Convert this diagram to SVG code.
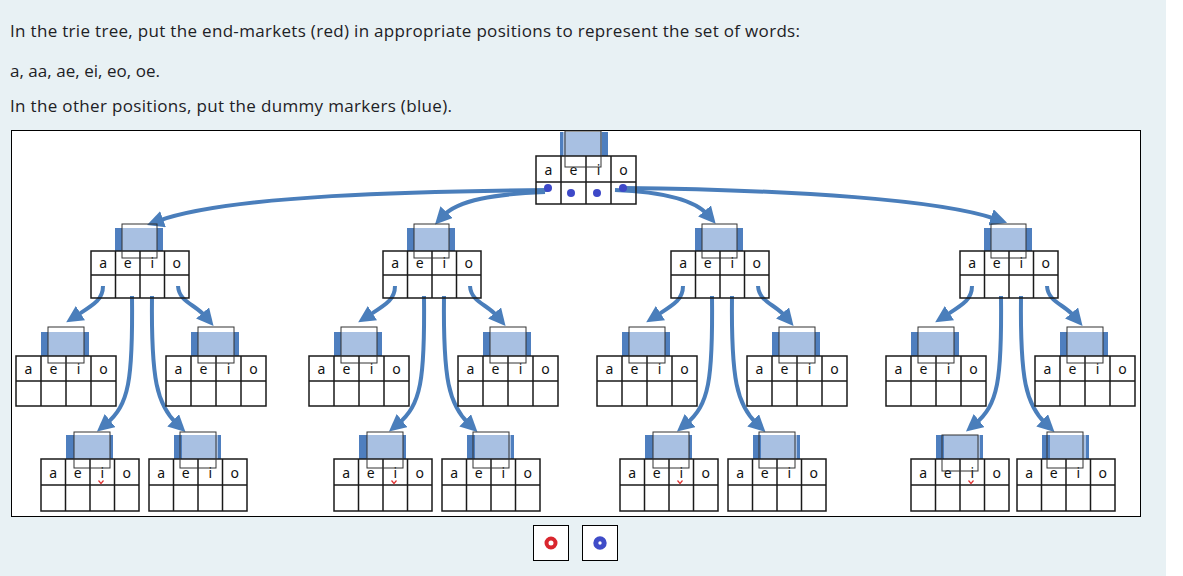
<svg xmlns="http://www.w3.org/2000/svg" width="1183" height="576" viewBox="0 0 1183 576">
<style>
.hd{font-family:"Open Sans","Noto Sans",sans-serif;font-size:17px;fill:#1d2125}
.dk{fill:#4f7fbf}
.lt{fill:#a8c0e2}
.ol{fill:none;stroke:#333;stroke-width:1}
.gr{fill:none;stroke:#1a1a1a;stroke-width:1.5}
.lb{font-family:"Noto Sans","Open Sans",sans-serif;font-size:14px;text-anchor:middle;fill:#111}
.cn{fill:none;stroke:#4a7ebb;stroke-width:4;marker-end:url(#ah)}
.dot{fill:#3d48c8}
.rm{fill:none;stroke:#e03030;stroke-width:1.2}
</style>
<defs>
<marker id="ah" markerUnits="userSpaceOnUse" viewBox="0 0 16 16" markerWidth="17" markerHeight="17" refX="5" refY="8" orient="auto">
<path d="M0,0L16,8L0,16Z" fill="#4a7ebb"/>
</marker>
</defs>
<rect x="0" y="0" width="1166" height="576" fill="#e8f1f4"/>
<rect x="1166" y="0" width="17" height="576" fill="#ffffff"/>
<text class="hd" x="10" y="37" textLength="790">In the trie tree, put the end-markets (red) in appropriate positions to represent the set of words:</text>
<text class="hd" x="10" y="77" textLength="150">a, aa, ae, ei, eo, oe.</text>
<text class="hd" x="10" y="112" textLength="442">In the other positions, put the dummy markers (blue).</text>
<rect x="11.5" y="130.5" width="1129" height="386" fill="#ffffff" stroke="#000" stroke-width="1"/>

<g id="connectors">
<path class="cn" d="M548,190 C420,191 230,195 158,221"/>
<path class="cn" d="M545,192 C495,194 458,200 443,216"/>
<path class="cn" d="M615,190 C665,192 695,200 708,215"/>
<path class="cn" d="M623,188 C800,190 940,200 996,219"/>

<path class="cn" d="M103,286 C103,300 93,305 76,316"/>
<path class="cn" d="M178,286 C179,302 195,304 206,317"/>
<path class="cn" d="M132,296 C133,380 129,405 106,424"/>
<path class="cn" d="M152,296 C151,380 157,405 177,424"/>

<path class="cn" d="M395,286 C395,300 385,305 368,316"/>
<path class="cn" d="M470,286 C471,302 487,304 498,317"/>
<path class="cn" d="M424,296 C425,380 421,405 398,424"/>
<path class="cn" d="M444,296 C443,380 449,405 469,424"/>

<path class="cn" d="M683,286 C683,300 673,305 656,316"/>
<path class="cn" d="M758,286 C759,302 775,304 786,317"/>
<path class="cn" d="M712,296 C713,380 709,405 686,424"/>
<path class="cn" d="M732,296 C731,380 737,405 757,424"/>

<path class="cn" d="M972,286 C972,300 962,305 945,316"/>
<path class="cn" d="M1047,286 C1048,302 1064,304 1075,317"/>
<path class="cn" d="M1001,296 C1002,380 998,405 975,424"/>
<path class="cn" d="M1021,296 C1020,380 1026,405 1046,424"/>
</g>

<!-- root -->
<g id="n-root" transform="translate(536,156)">
<rect class="dk" x="24" y="-24" width="48" height="24"/>
<rect class="lt" x="27" y="-24" width="39" height="24"/>
<path class="gr" d="M0,0H100V48H0Z M0,26H100 M25,0V48 M50,0V48 M75,0V48"/>
<text class="lb" x="12.5" y="19">a</text><text class="lb" x="37.5" y="19">e</text><text class="lb" x="62.5" y="19">i</text><text class="lb" x="87.5" y="19">o</text>
<rect class="ol" x="29" y="-25" width="36" height="36"/>
<circle class="dot" cx="12" cy="32" r="4"/><circle class="dot" cx="35" cy="37" r="4"/><circle class="dot" cx="61" cy="37" r="4"/><circle class="dot" cx="87" cy="32" r="4"/>
</g>

<!-- level 1 -->
<g id="n-a" transform="translate(91,251)">
<rect class="dk" x="24" y="-23" width="48" height="23"/><rect class="lt" x="31" y="-23" width="35" height="23"/>
<path class="gr" d="M0,0H98V47H0Z M0,24H98 M24.5,0V47 M49,0V47 M73.5,0V47"/>
<text class="lb" x="12.25" y="17">a</text><text class="lb" x="36.75" y="17">e</text><text class="lb" x="61.25" y="17">i</text><text class="lb" x="85.75" y="17">o</text>
<rect class="ol" x="31" y="-27" width="35" height="34"/>
</g>
<g id="n-e" transform="translate(383,251)">
<rect class="dk" x="24" y="-23" width="48" height="23"/><rect class="lt" x="31" y="-23" width="35" height="23"/>
<path class="gr" d="M0,0H98V47H0Z M0,24H98 M24.5,0V47 M49,0V47 M73.5,0V47"/>
<text class="lb" x="12.25" y="17">a</text><text class="lb" x="36.75" y="17">e</text><text class="lb" x="61.25" y="17">i</text><text class="lb" x="85.75" y="17">o</text>
<rect class="ol" x="31" y="-27" width="35" height="34"/>
</g>
<g id="n-i" transform="translate(671,251)">
<rect class="dk" x="24" y="-23" width="48" height="23"/><rect class="lt" x="31" y="-23" width="35" height="23"/>
<path class="gr" d="M0,0H98V47H0Z M0,24H98 M24.5,0V47 M49,0V47 M73.5,0V47"/>
<text class="lb" x="12.25" y="17">a</text><text class="lb" x="36.75" y="17">e</text><text class="lb" x="61.25" y="17">i</text><text class="lb" x="85.75" y="17">o</text>
<rect class="ol" x="31" y="-27" width="35" height="34"/>
</g>
<g id="n-o" transform="translate(960,251)">
<rect class="dk" x="24" y="-23" width="48" height="23"/><rect class="lt" x="31" y="-23" width="35" height="23"/>
<path class="gr" d="M0,0H98V47H0Z M0,24H98 M24.5,0V47 M49,0V47 M73.5,0V47"/>
<text class="lb" x="12.25" y="17">a</text><text class="lb" x="36.75" y="17">e</text><text class="lb" x="61.25" y="17">i</text><text class="lb" x="85.75" y="17">o</text>
<rect class="ol" x="31" y="-27" width="35" height="34"/>
</g>

<!-- level 2 -->
<g id="n-aa" transform="translate(16,356)">
<rect class="dk" x="25" y="-24" width="48" height="24"/><rect class="lt" x="32" y="-24" width="36" height="24"/>
<path class="gr" d="M0,0H100V50H0Z M0,25H100 M25,0V50 M50,0V50 M75,0V50"/>
<text class="lb" x="12.5" y="18">a</text><text class="lb" x="37.5" y="18">e</text><text class="lb" x="62.5" y="18">i</text><text class="lb" x="87.5" y="18">o</text>
<rect class="ol" x="32" y="-29" width="36" height="36"/>
</g>
<g id="n-ao" transform="translate(166,356)">
<rect class="dk" x="25" y="-24" width="48" height="24"/><rect class="lt" x="32" y="-24" width="36" height="24"/>
<path class="gr" d="M0,0H100V50H0Z M0,25H100 M25,0V50 M50,0V50 M75,0V50"/>
<text class="lb" x="12.5" y="18">a</text><text class="lb" x="37.5" y="18">e</text><text class="lb" x="62.5" y="18">i</text><text class="lb" x="87.5" y="18">o</text>
<rect class="ol" x="32" y="-29" width="36" height="36"/>
</g>
<g id="n-ea" transform="translate(309,356)">
<rect class="dk" x="25" y="-24" width="48" height="24"/><rect class="lt" x="32" y="-24" width="36" height="24"/>
<path class="gr" d="M0,0H100V50H0Z M0,25H100 M25,0V50 M50,0V50 M75,0V50"/>
<text class="lb" x="12.5" y="18">a</text><text class="lb" x="37.5" y="18">e</text><text class="lb" x="62.5" y="18">i</text><text class="lb" x="87.5" y="18">o</text>
<rect class="ol" x="32" y="-29" width="36" height="36"/>
</g>
<g id="n-eo" transform="translate(458,356)">
<rect class="dk" x="25" y="-24" width="48" height="24"/><rect class="lt" x="32" y="-24" width="36" height="24"/>
<path class="gr" d="M0,0H100V50H0Z M0,25H100 M25,0V50 M50,0V50 M75,0V50"/>
<text class="lb" x="12.5" y="18">a</text><text class="lb" x="37.5" y="18">e</text><text class="lb" x="62.5" y="18">i</text><text class="lb" x="87.5" y="18">o</text>
<rect class="ol" x="32" y="-29" width="36" height="36"/>
</g>
<g id="n-ia" transform="translate(597,356)">
<rect class="dk" x="25" y="-24" width="48" height="24"/><rect class="lt" x="32" y="-24" width="36" height="24"/>
<path class="gr" d="M0,0H100V50H0Z M0,25H100 M25,0V50 M50,0V50 M75,0V50"/>
<text class="lb" x="12.5" y="18">a</text><text class="lb" x="37.5" y="18">e</text><text class="lb" x="62.5" y="18">i</text><text class="lb" x="87.5" y="18">o</text>
<rect class="ol" x="32" y="-29" width="36" height="36"/>
</g>
<g id="n-io" transform="translate(747,356)">
<rect class="dk" x="25" y="-24" width="48" height="24"/><rect class="lt" x="32" y="-24" width="36" height="24"/>
<path class="gr" d="M0,0H100V50H0Z M0,25H100 M25,0V50 M50,0V50 M75,0V50"/>
<text class="lb" x="12.5" y="18">a</text><text class="lb" x="37.5" y="18">e</text><text class="lb" x="62.5" y="18">i</text><text class="lb" x="87.5" y="18">o</text>
<rect class="ol" x="32" y="-29" width="36" height="36"/>
</g>
<g id="n-oa" transform="translate(886,356)">
<rect class="dk" x="25" y="-24" width="48" height="24"/><rect class="lt" x="32" y="-24" width="36" height="24"/>
<path class="gr" d="M0,0H100V50H0Z M0,25H100 M25,0V50 M50,0V50 M75,0V50"/>
<text class="lb" x="12.5" y="18">a</text><text class="lb" x="37.5" y="18">e</text><text class="lb" x="62.5" y="18">i</text><text class="lb" x="87.5" y="18">o</text>
<rect class="ol" x="32" y="-29" width="36" height="36"/>
</g>
<g id="n-oo" transform="translate(1035,356)">
<rect class="dk" x="25" y="-24" width="48" height="24"/><rect class="lt" x="32" y="-24" width="36" height="24"/>
<path class="gr" d="M0,0H100V50H0Z M0,25H100 M25,0V50 M50,0V50 M75,0V50"/>
<text class="lb" x="12.5" y="18">a</text><text class="lb" x="37.5" y="18">e</text><text class="lb" x="62.5" y="18">i</text><text class="lb" x="87.5" y="18">o</text>
<rect class="ol" x="32" y="-29" width="36" height="36"/>
</g>

<!-- level 3 -->
<g id="n-ae" transform="translate(41,459)">
<rect class="dk" x="25" y="-24" width="47" height="24"/><rect class="lt" x="33" y="-24" width="36" height="24"/>
<path class="gr" d="M0,0H98V52H0Z M0,26H98 M24.5,0V52 M49,0V52 M73.5,0V52"/>
<text class="lb" x="12.25" y="19">a</text><text class="lb" x="36.75" y="19">e</text><text class="lb" x="61.25" y="19">i</text><text class="lb" x="85.75" y="19">o</text>
<path class="rm" d="M57.5,21.5L60,24.5L62.5,21.5"/>
<rect class="ol" x="33" y="-27" width="36" height="36"/>
</g>
<g id="n-ai" transform="translate(149,459)">
<rect class="dk" x="25" y="-24" width="47" height="24"/><rect class="lt" x="33" y="-24" width="36" height="24"/>
<path class="gr" d="M0,0H98V52H0Z M0,26H98 M24.5,0V52 M49,0V52 M73.5,0V52"/>
<text class="lb" x="12.25" y="19">a</text><text class="lb" x="36.75" y="19">e</text><text class="lb" x="61.25" y="19">i</text><text class="lb" x="85.75" y="19">o</text>
<rect class="ol" x="31" y="-27" width="36" height="36"/>
</g>
<g id="n-ee" transform="translate(334,459)">
<rect class="dk" x="25" y="-24" width="47" height="24"/><rect class="lt" x="33" y="-24" width="36" height="24"/>
<path class="gr" d="M0,0H98V52H0Z M0,26H98 M24.5,0V52 M49,0V52 M73.5,0V52"/>
<text class="lb" x="12.25" y="19">a</text><text class="lb" x="36.75" y="19">e</text><text class="lb" x="61.25" y="19">i</text><text class="lb" x="85.75" y="19">o</text>
<path class="rm" d="M57.5,21.5L60,24.5L62.5,21.5"/>
<rect class="ol" x="33" y="-27" width="36" height="36"/>
</g>
<g id="n-ei" transform="translate(442,459)">
<rect class="dk" x="25" y="-24" width="47" height="24"/><rect class="lt" x="33" y="-24" width="36" height="24"/>
<path class="gr" d="M0,0H98V52H0Z M0,26H98 M24.5,0V52 M49,0V52 M73.5,0V52"/>
<text class="lb" x="12.25" y="19">a</text><text class="lb" x="36.75" y="19">e</text><text class="lb" x="61.25" y="19">i</text><text class="lb" x="85.75" y="19">o</text>
<rect class="ol" x="31" y="-27" width="36" height="36"/>
</g>
<g id="n-ie" transform="translate(620,459)">
<rect class="dk" x="25" y="-24" width="47" height="24"/><rect class="lt" x="33" y="-24" width="36" height="24"/>
<path class="gr" d="M0,0H98V52H0Z M0,26H98 M24.5,0V52 M49,0V52 M73.5,0V52"/>
<text class="lb" x="12.25" y="19">a</text><text class="lb" x="36.75" y="19">e</text><text class="lb" x="61.25" y="19">i</text><text class="lb" x="85.75" y="19">o</text>
<path class="rm" d="M57.5,21.5L60,24.5L62.5,21.5"/>
<rect class="ol" x="33" y="-27" width="36" height="36"/>
</g>
<g id="n-ii" transform="translate(728,459)">
<rect class="dk" x="25" y="-24" width="47" height="24"/><rect class="lt" x="33" y="-24" width="36" height="24"/>
<path class="gr" d="M0,0H98V52H0Z M0,26H98 M24.5,0V52 M49,0V52 M73.5,0V52"/>
<text class="lb" x="12.25" y="19">a</text><text class="lb" x="36.75" y="19">e</text><text class="lb" x="61.25" y="19">i</text><text class="lb" x="85.75" y="19">o</text>
<rect class="ol" x="31" y="-27" width="36" height="36"/>
</g>
<g id="n-oe" transform="translate(911,459)">
<rect class="dk" x="25" y="-24" width="47" height="24"/><rect class="lt" x="33" y="-24" width="36" height="24"/>
<path class="gr" d="M0,0H98V52H0Z M0,26H98 M24.5,0V52 M49,0V52 M73.5,0V52"/>
<text class="lb" x="12.25" y="19">a</text><text class="lb" x="36.75" y="19">e</text><text class="lb" x="61.25" y="19">i</text><text class="lb" x="85.75" y="19">o</text>
<path class="rm" d="M57.5,21.5L60,24.5L62.5,21.5"/>
<rect class="ol" x="31" y="-24" width="36" height="36"/>
</g>
<g id="n-oi" transform="translate(1017,459)">
<rect class="dk" x="25" y="-24" width="47" height="24"/><rect class="lt" x="33" y="-24" width="36" height="24"/>
<path class="gr" d="M0,0H98V52H0Z M0,26H98 M24.5,0V52 M49,0V52 M73.5,0V52"/>
<text class="lb" x="12.25" y="19">a</text><text class="lb" x="36.75" y="19">e</text><text class="lb" x="61.25" y="19">i</text><text class="lb" x="85.75" y="19">o</text>
<rect class="ol" x="30" y="-27" width="36" height="36"/>
</g>

<!-- markers palette -->
<g id="marker-end">
<rect x="533.5" y="525.5" width="35" height="35" fill="#fff" stroke="#000" stroke-width="1"/>
<circle cx="551" cy="543" r="4.5" fill="none" stroke="#d9262e" stroke-width="4"/>
</g>
<g id="marker-dummy">
<rect x="582.5" y="525.5" width="35" height="35" fill="#fff" stroke="#000" stroke-width="1"/>
<circle cx="600" cy="543" r="4.2" fill="none" stroke="#3f4cc8" stroke-width="5"/>
</g>
</svg>
